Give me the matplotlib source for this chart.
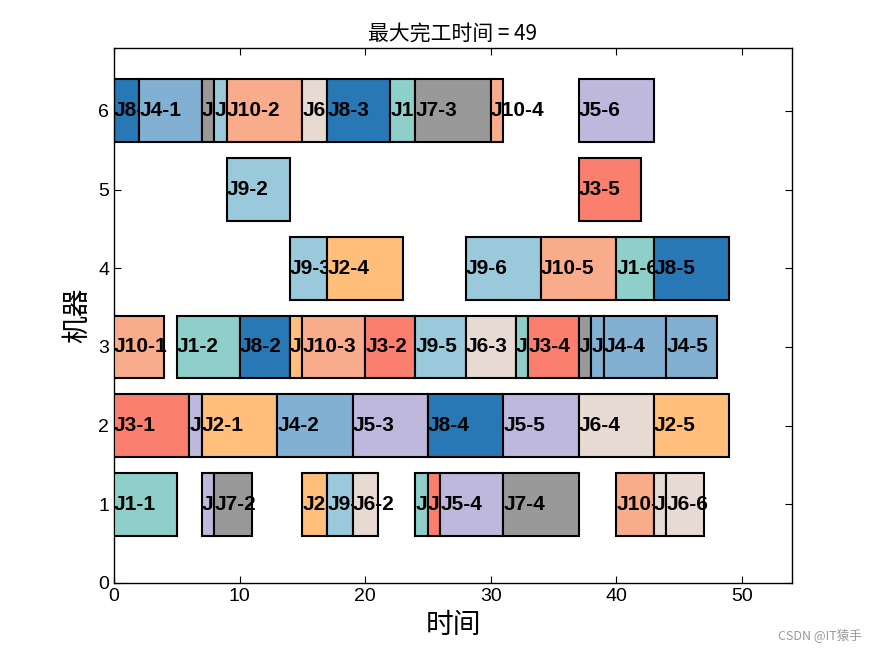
import matplotlib.pyplot as plt
from matplotlib.patches import Rectangle

plt.rcParams['font.family'] = ['Noto Sans CJK SC', 'DejaVu Sans']

# one entry per operation: job, operation, machine, start, end
jobs     = [8, 4, 7, 9, 10, 6, 8, 1, 7, 10, 5,
            9, 3,
            9, 2, 9, 10, 1, 8,
            10, 1, 8, 2, 10, 3, 9, 6, 1, 3, 7, 4, 4, 4,
            3, 5, 2, 4, 5, 8, 5, 6, 2,
            1, 5, 7, 2, 9, 6, 1, 3, 5, 7, 10, 6, 6]
ops      = [1, 1, 1, 1, 2, 1, 3, 3, 3, 4, 6,
            2, 5,
            3, 4, 6, 5, 6, 5,
            1, 2, 2, 2, 3, 2, 5, 3, 5, 4, 5, 3, 4, 5,
            1, 1, 1, 2, 3, 4, 5, 4, 5,
            1, 2, 2, 3, 4, 2, 4, 3, 4, 4, 6, 5, 6]
machines = [6] * 11 + [5] * 2 + [4] * 6 + [3] * 14 + [2] * 9 + [1] * 13
starts   = [0, 2, 7, 8, 9, 15, 17, 22, 24, 30, 37,
            9, 37,
            14, 17, 28, 34, 40, 43,
            0, 5, 10, 14, 15, 20, 24, 28, 32, 33, 37, 38, 39, 44,
            0, 6, 7, 13, 19, 25, 31, 37, 43,
            0, 7, 8, 15, 17, 19, 24, 25, 26, 31, 40, 43, 44]
ends     = [2, 7, 8, 9, 15, 17, 22, 24, 30, 31, 43,
            14, 42,
            17, 23, 34, 40, 43, 49,
            4, 10, 14, 15, 20, 24, 28, 32, 33, 37, 38, 39, 44, 48,
            6, 7, 13, 19, 25, 31, 37, 43, 49,
            5, 8, 11, 17, 19, 21, 25, 26, 31, 37, 43, 44, 47]

job_colors = {1: '#8ECFC9', 2: '#FFBE7A', 3: '#FA7F6F', 4: '#82B0D2',
              5: '#BEB8DC', 6: '#E7DAD2', 7: '#999999', 8: '#2878B5',
              9: '#9AC9DB', 10: '#F8AC8C'}

makespan = max(ends)

fig = plt.figure(figsize=(8.75, 6.56), dpi=100)
ax = fig.add_axes([0.1303, 0.1113, 0.7749, 0.8155])

h = 0.8
z = 2
for j, o, m, s, e in zip(jobs, ops, machines, starts, ends):
    ax.add_patch(Rectangle((s, m - h / 2), e - s, h, facecolor=job_colors[j],
                           edgecolor='black', linewidth=1.5, zorder=z))
    ax.text(s, m, 'J%d-%d' % (j, o), ha='left', va='center',
            fontsize=15, fontweight='bold', family='Liberation Sans', zorder=z + 1)
    z += 2

ax.set_xlim(0, 54)
ax.set_ylim(0, 6.8)
ax.set_xticks(range(0, 51, 10))
ax.set_yticks(range(0, 7))
ax.tick_params(direction='in', top=True, right=True, labelsize=14, length=5)
for lab in ax.get_xticklabels() + ax.get_yticklabels():
    lab.set_family('Liberation Sans')
for sp in ax.spines.values():
    sp.set_linewidth(1.0)

ax.set_title('最大完工时间 = %d' % makespan, fontsize=15)
ax.set_xlabel('时间', fontsize=20)
ax.set_ylabel('机器', fontsize=20)

fig.text(0.985, 0.022, 'CSDN @IT猿手', ha='right', va='bottom', fontsize=9, color='#999999')

fig.savefig('out.png', dpi=100)
